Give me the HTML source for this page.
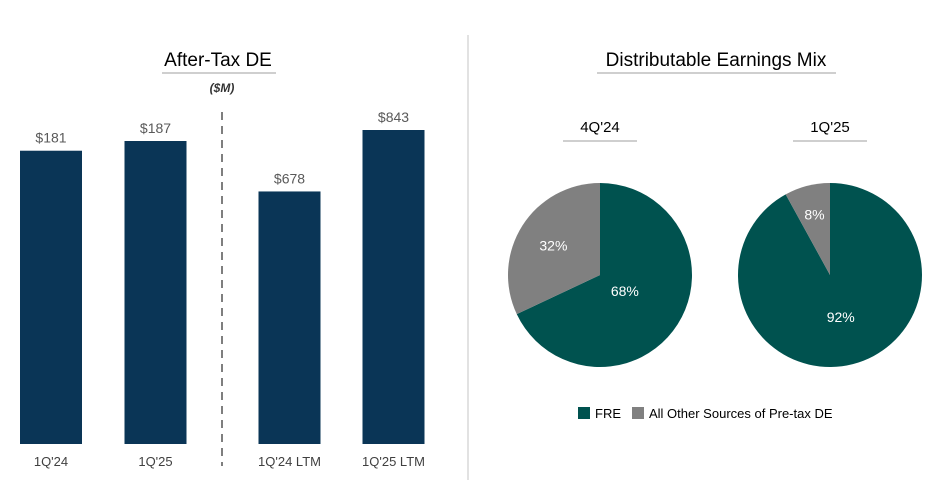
<!DOCTYPE html>
<html><head><meta charset="utf-8"><style>
body{margin:0;background:#fff;width:940px;height:482px;overflow:hidden;font-family:"Liberation Sans",Arial,sans-serif}
svg text{font-family:"Liberation Sans",Arial,sans-serif}
</style></head><body>
<svg id="c" width="940" height="482" xmlns="http://www.w3.org/2000/svg">
<line x1="468" y1="35" x2="468" y2="480" stroke="#d9d9d9" stroke-width="1.5"/>
<text x="218" y="66" text-anchor="middle" font-size="19" fill="#000">After-Tax DE</text>
<line x1="162" y1="73" x2="276" y2="73" stroke="#bfbfbf" stroke-width="1.5"/>
<text x="222" y="92" text-anchor="middle" font-size="12" font-style="italic" font-weight="bold" fill="#333">($M)</text>
<line x1="222" y1="112" x2="222" y2="466" stroke="#7f7f7f" stroke-width="2" stroke-dasharray="8,6"/>
<g id="bars"></g>
<text x="716" y="66" text-anchor="middle" font-size="19" fill="#000">Distributable Earnings Mix</text>
<line x1="597" y1="73" x2="836" y2="73" stroke="#bfbfbf" stroke-width="1.5"/>
<g id="pies"></g>
<rect x="578" y="407" width="12" height="12" fill="#00524f"/>
<text x="595" y="418" font-size="13" fill="#000">FRE</text>
<rect x="632" y="407" width="12" height="12" fill="#808080"/>
<text x="649" y="418" font-size="13" fill="#000">All Other Sources of Pre-tax DE</text>
</svg>
<script>
const categories=["1Q'24","1Q'25","1Q'24 LTM","1Q'25 LTM"];
const values=[181,187,678,843];
const groups=[0,0,1,1];
const pieTitles=["4Q'24","1Q'25"];
const freShare=[68,92];
const otherShare=[32,8];
const NS="http://www.w3.org/2000/svg";
const base=444;
const groupMax=[187,843];
const groupPx=[303,314];
const xCenters=[51,155.5,289.5,393.5];
function yScale(v,g){return base-v/groupMax[g]*groupPx[g];}
const bars=document.getElementById('bars');
function mk(t,a){const e=document.createElementNS(NS,t);for(const k in a)e.setAttribute(k,a[k]);return e;}
values.forEach((v,i)=>{
  const y=yScale(v,groups[i]);
  const r=mk('rect',{x:xCenters[i]-31,y:y,width:62,height:base-y,fill:'#0a3556'});
  
  
  bars.appendChild(r);
  const t=mk('text',{x:xCenters[i],y:y-8,'text-anchor':'middle','font-size':14,fill:'#595959'});
  t.textContent='$'+v;
  
  
  bars.appendChild(t);
  const l=mk('text',{x:xCenters[i],y:466,'text-anchor':'middle','font-size':13,fill:'#404040'});
  l.textContent=categories[i];
  
  
  bars.appendChild(l);
});
const pies=document.getElementById('pies');
const pcx=[600,830],pcy=275,R=92;
const freLabelR=[0.32,0.47],otherLabelR=[0.6,0.68];
function pt(cx,f){const a=f*2*Math.PI;return [cx+R*Math.sin(a),pcy-R*Math.cos(a)];}
pieTitles.forEach((tt,i)=>{
  const cx=pcx[i];
  const t=mk('text',{x:cx,y:132,'text-anchor':'middle','font-size':15,fill:'#000'});
  t.textContent=tt;
  
  
  pies.appendChild(t);
  const u=mk('line',{x1:cx-37,y1:141,x2:cx+37,y2:141,stroke:'#bfbfbf','stroke-width':1.5});
  
  
  pies.appendChild(u);
  const f=freShare[i]/100;
  const e=pt(cx,f);
  const p1=mk('path',{d:`M${cx},${pcy}L${cx},${pcy-R}A${R},${R} 0 ${f>0.5?1:0} 1 ${e[0]},${e[1]}Z`,fill:'#00524f'});
  
  
  pies.appendChild(p1);
  const p2=mk('path',{d:`M${cx},${pcy}L${e[0]},${e[1]}A${R},${R} 0 ${f<0.5?1:0} 1 ${cx},${pcy-R}Z`,fill:'#808080'});
  
  
  pies.appendChild(p2);
  const m1=f/2, m2=f+(1-f)/2;
  [[m1,freLabelR[i],freShare[i]],[m2,otherLabelR[i],otherShare[i]]].forEach(([m,lr,v])=>{
    const a=m*2*Math.PI;
    const x=cx+R*lr*Math.sin(a), y=pcy-R*lr*Math.cos(a);
    const l=mk('text',{x:x,y:y+5,'text-anchor':'middle','font-size':14,fill:'#fff'});
    l.textContent=v+'%';
    
    
    pies.appendChild(l);
  });
});
</script>
</body></html>
